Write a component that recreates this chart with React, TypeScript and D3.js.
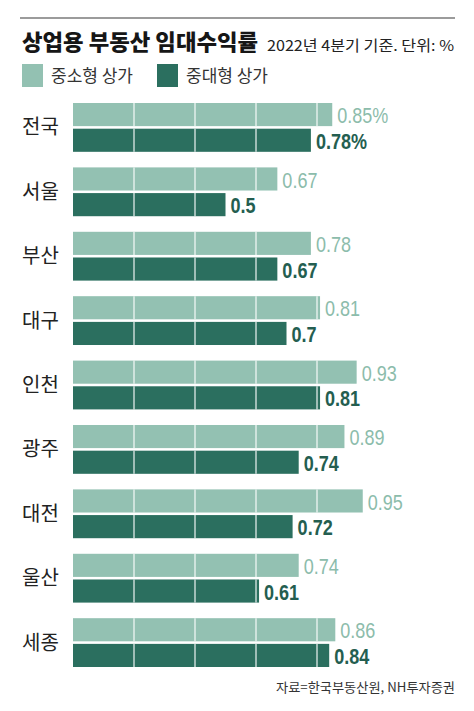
import React from 'react';
import * as d3 from 'd3';

const regions = ['전국', '서울', '부산', '대구', '인천', '광주', '대전', '울산', '세종'];
const smallShops = [0.85, 0.67, 0.78, 0.81, 0.93, 0.89, 0.95, 0.74, 0.86];
const largeShops = [0.78, 0.5, 0.67, 0.7, 0.81, 0.74, 0.72, 0.61, 0.84];
const seriesNames = ['중소형 상가', '중대형 상가'];
const gridTicks = [0.2, 0.4, 0.6, 0.8];

const W = 474;
const H = 711;
const KR = '"Noto Sans CJK KR", "Noto Sans", sans-serif';
const NUM = '"Liberation Sans Narrow", "Arial Narrow", "Liberation Sans", sans-serif';
const LIGHT = '#93c1b2';
const DARK = '#2b6f5f';
const LIGHT_TEXT = '#8cbcab';
const DARK_TEXT = '#245e50';

const App: React.FC = () => {
  const x = d3.scaleLinear().domain([0, 1]).range([73, 378]);
  const y = d3.scaleBand<string>().domain(regions).range([103, 667]).paddingInner(0.242).paddingOuter(0);
  const inner = d3.scaleBand<string>().domain(['small', 'large']).range([0, y.bandwidth()]).paddingInner(0.1);
  const bh = inner.bandwidth();

  const fmt = (v: number, i: number) => (i === 0 ? `${v}%` : `${v}`);

  const series = [
    { key: 'small', values: smallShops, fill: LIGHT, text: LIGHT_TEXT, weight: 400 },
    { key: 'large', values: largeShops, fill: DARK, text: DARK_TEXT, weight: 700 },
  ];

  return (
    <svg
      width={W}
      height={H}
      style={{ position: 'absolute', left: 0, top: 0, background: '#fff' }}
    >
      <line x1={20} x2={455} y1={18} y2={18} stroke="#7a7a7a" strokeWidth={1.5} />
      <text x={22} y={50} fontFamily={KR} fontWeight={900} fontSize={22} fill="#161616" textLength={236} lengthAdjust="spacingAndGlyphs">
        상업용 부동산 임대수익률
      </text>
      <text x={267} y={51} fontFamily={KR} fontSize={15} fill="#222" textLength={187} lengthAdjust="spacingAndGlyphs">
        2022년 4분기 기준. 단위: %
      </text>

      {seriesNames.map((name, i) => (
        <g key={name} transform={`translate(${i === 0 ? 22 : 157},64)`}>
          <rect width={21} height={23} fill={i === 0 ? LIGHT : DARK} />
          <text x={29} y={18} fontFamily={KR} fontSize={17} fill="#333">
            {name}
          </text>
        </g>
      ))}

      {regions.map((r, ri) => {
        const gy = y(r) ?? 0;
        return (
          <g key={r} transform={`translate(0,${gy})`}>
            <text x={22} y={y.bandwidth() / 2 + 7} fontFamily={KR} fontSize={20} fill="#222">
              {r}
            </text>
            {series.map((s) => {
              const v = s.values[ri];
              const by = inner(s.key) ?? 0;
              return (
                <g key={s.key}>
                  <rect x={x(0)} y={by} width={x(v) - x(0)} height={bh} fill={s.fill} />
                  {gridTicks
                    .filter((t) => t < v)
                    .map((t) => (
                      <line
                        key={t}
                        x1={x(t)}
                        x2={x(t)}
                        y1={by}
                        y2={by + bh}
                        stroke="#fff"
                        strokeOpacity={0.55}
                        strokeWidth={2}
                      />
                    ))}
                  {/* no narrow face installed, so squeeze the numbers */}
                  <text
                    transform={`translate(${x(v) + 5},${by + bh - 3}) scale(0.82,1)`}
                    fontFamily={NUM}
                    fontWeight={s.weight}
                    fontSize={22}
                    fill={s.text}
                  >
                    {fmt(v, ri)}
                  </text>
                </g>
              );
            })}
          </g>
        );
      })}

      <text x={455} y={692} textAnchor="end" fontFamily={KR} fontSize={13} fill="#333" textLength={179} lengthAdjust="spacingAndGlyphs">
        자료=한국부동산원, NH투자증권
      </text>
    </svg>
  );
};

export default App;
